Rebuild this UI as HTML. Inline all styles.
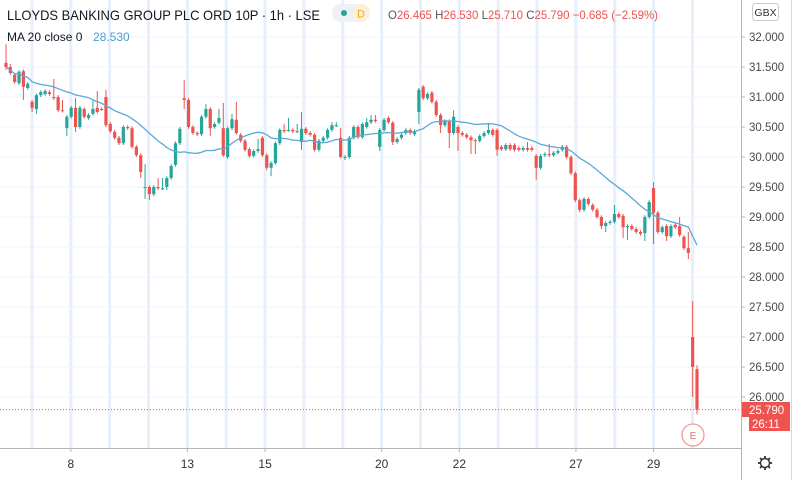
<!DOCTYPE html>
<html><head><meta charset="utf-8"><style>
body{margin:0;background:#fff;font-family:"Liberation Sans",sans-serif;}
#wrap{position:relative;width:793px;height:480px;overflow:hidden;}
svg{position:absolute;left:0;top:0;}
</style></head><body>
<div id="wrap">
<svg id="chart" width="793" height="480"></svg>
</div>
<script>
const opens=[31.57,31.50,31.37,31.23,31.43,31.15,30.92,30.80,31.03,31.05,31.08,31.00,31.00,30.78,30.48,30.67,30.82,30.50,30.80,30.65,30.72,30.82,30.80,31.00,30.55,30.42,30.32,30.23,30.50,30.48,30.17,30.03,29.50,29.50,29.38,29.50,29.48,29.50,29.65,29.87,30.23,30.98,
30.95,30.50,30.40,30.38,30.67,30.80,30.50,30.57,30.48,30.00,30.48,30.62,30.37,30.27,30.13,30.02,30.10,30.32,30.03,29.82,29.90,30.23,30.45,30.45,30.45,30.43,30.25,30.47,30.40,30.37,30.12,30.27,30.32,30.45,30.53,30.32,30.00,30.00,30.32,30.50,30.33,30.50,30.58,30.62,
30.17,30.45,30.65,30.57,30.25,30.32,30.40,30.45,30.38,30.75,31.17,30.98,31.07,30.92,30.70,30.53,30.60,30.40,30.50,30.40,30.37,30.33,30.28,30.27,30.35,30.40,30.45,30.45,30.17,30.13,30.20,30.20,30.15,30.12,30.15,30.15,30.02,29.82,30.03,30.05,30.03,30.07,30.12,30.17,
30.00,29.73,29.28,29.12,29.30,29.20,29.12,29.00,28.85,28.90,28.92,29.05,29.02,28.83,28.85,28.80,28.75,28.73,29.00,29.48,29.07,28.75,28.85,28.68,28.87,28.85,28.67,28.48,27.00,26.465];
const closes=[31.50,31.40,31.25,31.42,31.17,31.22,30.82,31.03,31.08,31.10,31.05,30.98,30.78,30.77,30.67,30.82,30.50,30.82,30.67,30.70,30.80,30.75,30.80,30.53,30.43,30.32,30.23,30.50,30.48,30.17,30.03,29.75,29.50,29.38,29.50,29.48,29.48,29.65,29.85,30.23,30.47,30.95,
30.50,30.40,30.38,30.67,30.80,30.48,30.55,30.65,30.03,30.48,30.63,30.40,30.27,30.12,30.02,30.10,30.13,30.03,29.82,29.90,30.23,30.45,30.43,30.45,30.43,30.43,30.47,30.40,30.37,30.12,30.27,30.32,30.45,30.53,30.53,30.00,30.00,30.32,30.50,30.33,30.55,30.58,30.62,30.60,
30.45,30.62,30.58,30.25,30.30,30.37,30.45,30.40,30.43,31.12,30.98,31.05,30.92,30.70,30.53,30.60,30.40,30.67,30.40,30.37,30.33,30.28,30.27,30.35,30.40,30.45,30.37,30.12,30.13,30.20,30.13,30.12,30.12,30.15,30.12,30.12,29.82,30.02,30.05,30.03,30.07,30.10,30.17,30.00,
29.73,29.28,29.12,29.30,29.22,29.12,29.00,28.85,28.90,28.92,29.05,29.00,28.83,28.85,28.80,28.75,28.72,29.00,29.25,29.07,28.75,28.83,28.68,28.85,28.83,28.70,28.48,28.40,26.50,25.79];
const highs=[31.88,31.55,31.40,31.45,31.46,31.25,30.95,31.06,31.11,31.13,31.11,31.30,31.03,30.95,30.70,30.85,30.98,30.85,30.83,30.73,30.95,31.10,30.83,31.12,30.58,30.45,30.35,30.53,30.53,30.51,30.20,30.06,29.88,29.53,29.53,29.65,29.65,29.68,29.88,30.26,30.50,31.28,
30.98,30.53,30.43,30.70,30.88,30.83,30.58,30.80,30.90,30.51,30.72,30.92,30.40,30.30,30.16,30.13,30.30,30.35,30.06,29.93,30.26,30.48,30.55,30.65,30.48,30.55,30.75,30.50,30.43,30.40,30.30,30.35,30.48,30.58,30.58,30.48,30.03,30.35,30.53,30.53,30.58,30.65,30.70,30.70,
30.48,30.65,30.68,30.60,30.33,30.40,30.48,30.48,30.46,31.15,31.20,31.08,31.10,30.95,30.73,30.63,30.63,30.78,30.53,30.43,30.40,30.36,30.31,30.38,30.43,30.55,30.48,30.48,30.20,30.23,30.23,30.23,30.18,30.18,30.25,30.18,30.05,30.05,30.08,30.22,30.10,30.13,30.20,30.20,
30.03,29.76,29.31,29.33,29.33,29.23,29.15,29.03,28.93,28.95,29.20,29.08,29.05,28.88,28.88,28.83,28.78,29.03,29.28,29.58,29.10,28.86,28.88,28.88,28.90,29.00,28.70,28.75,27.60,26.53];
const lows=[31.45,31.37,31.22,31.20,30.95,31.12,30.75,30.72,31.00,31.02,31.02,30.95,30.75,30.74,30.35,30.64,30.42,30.47,30.64,30.62,30.69,30.72,30.77,30.50,30.40,30.29,30.20,30.20,30.45,30.14,30.00,29.65,29.30,29.28,29.35,29.45,29.45,29.45,29.62,29.84,30.20,30.80,
30.47,30.37,30.35,30.35,30.64,30.35,30.47,30.54,30.00,29.97,30.45,30.37,30.24,30.09,29.99,29.99,30.07,30.00,29.78,29.68,29.87,30.20,30.40,30.42,30.40,30.40,30.12,30.37,30.34,30.09,30.09,30.24,30.29,30.42,30.50,29.98,29.95,29.97,30.29,30.30,30.30,30.47,30.55,30.57,
30.10,30.42,30.55,30.20,30.22,30.29,30.37,30.37,30.35,30.55,30.95,30.95,30.89,30.67,30.40,30.50,30.15,30.37,30.10,30.34,30.30,30.05,30.05,30.24,30.32,30.37,30.34,30.02,30.10,30.10,30.10,30.09,30.09,30.09,30.09,30.09,29.62,29.79,30.00,30.00,30.00,30.04,30.09,29.97,
29.70,29.25,29.08,29.09,29.19,29.09,28.97,28.80,28.75,28.87,28.89,28.97,28.65,28.62,28.77,28.72,28.69,28.60,28.97,28.55,28.72,28.72,28.60,28.65,28.80,28.67,28.45,28.30,26.00,25.71];
const priceTicks=["32.000","31.500","31.000","30.500","30.000","29.500","29.000","28.500","28.000","27.500","27.000","26.500","26.000"];
const dayLabels=["8","13","15","20","22","27","29"];
const lastPrice=25.79, maValue="28.530", maLast=28.53;

const NS="http://www.w3.org/2000/svg";
const svg=document.getElementById('chart');
const PL=6, PR=697, PT0=37, PPX=60, AXX=741, BOT=448;
const yOf=p=>PT0+(32-p)*PPX;
const xOf=i=>PL+i*(PR-PL)/(closes.length-1);
function mk(t,a,parent){const e=document.createElementNS(NS,t);for(const k in a)e.setAttribute(k,a[k]);(parent||svg).appendChild(e);return e;}

const bandG=mk('g',{});


for(let k=0;k<18;k++){const x=32+k*38.85;const r=mk('rect',{x:x-1.5,y:0,width:3,height:BOT,fill:'#e6effa'},bandG);

}
priceTicks.forEach(t=>{const y=yOf(parseFloat(t));const l=mk('line',{x1:0,x2:AXX,y1:y,y2:y,stroke:'#f0f3fa','stroke-width':1});

});

const cg=mk('g',{});


closes.forEach((c,i)=>{const o=opens[i],h=highs[i],l=lows[i];const col=c>=o?'#26a69a':'#ef5350';const x=xOf(i);
const w=mk('line',{x1:x,x2:x,y1:yOf(h),y2:yOf(l),stroke:col,'stroke-width':1},cg);


const top=yOf(Math.max(o,c)),bh=Math.max(1,Math.abs(yOf(o)-yOf(c)));
const b=mk('rect',{x:x-1.6,y:top,width:3.2,height:bh,fill:col},cg);

});

let pts=[];
for(let i=0;i<closes.length-2;i++){const s=Math.max(0,i-19);let sum=0;for(let j=s;j<=i;j++)sum+=closes[j];const m=sum/(i-s+1);pts.push(xOf(i).toFixed(1)+','+yOf(m).toFixed(1));}
pts.push(xOf(closes.length-1).toFixed(1)+','+yOf(maLast).toFixed(1));
const ma=mk('polyline',{points:pts.join(' '),fill:'none',stroke:'#5ba8d8','stroke-width':1.3});



const lp=mk('line',{x1:0,x2:AXX,y1:yOf(lastPrice),y2:yOf(lastPrice),stroke:'#ef5350','stroke-width':1,'stroke-dasharray':'1,2'});



const ya=mk('line',{x1:AXX+.5,x2:AXX+.5,y1:0,y2:480,stroke:'#b2b5be'});


const xa=mk('line',{x1:0,x2:AXX,y1:BOT+.5,y2:BOT+.5,stroke:'#b2b5be'});


mk('line',{x1:791.5,x2:791.5,y1:0,y2:480,stroke:'#d6d8de'});
priceTicks.forEach(t=>{const y=yOf(parseFloat(t));mk('line',{x1:AXX,x2:AXX+4,y1:y,y2:y,stroke:'#b2b5be'});
const tx=mk('text',{x:749,y:y+4,'font-size':11.5,fill:'#4a4a4a'});tx.textContent=t;

});
dayLabels.forEach((d,k)=>{const idx=[1,4,6,9,11,14,16][k];const x=32+idx*38.85;mk('line',{x1:x,x2:x,y1:BOT,y2:BOT+4,stroke:'#b2b5be'});
const tx=mk('text',{x:x,y:468,'font-size':12,fill:'#333','text-anchor':'middle'});tx.textContent=d;

});

const pl=mk('rect',{x:742,y:402,width:48,height:15,fill:'#ef5350'});


const pt=mk('text',{x:749,y:414,'font-size':11.5,fill:'#fff'});pt.textContent=lastPrice.toFixed(3);
const cd=mk('rect',{x:749,y:417,width:41,height:14,fill:'#ef5350'});


const ct=mk('text',{x:752,y:428,'font-size':11.5,fill:'#fff'});ct.textContent='26:11';

const eg=mk('g',{});


mk('circle',{cx:693,cy:435,r:11,fill:'#fff',stroke:'#ef9a9a','stroke-width':1.3},eg);
const et=mk('text',{x:693,y:439,'font-size':10,fill:'#e57373','text-anchor':'middle'},eg);et.textContent='E';

const gg=mk('g',{transform:'translate(765,463)'});


mk('circle',{cx:0,cy:0,r:4.5,fill:'none',stroke:'#333','stroke-width':1.4},gg);
for(let a=0;a<8;a++){const r=a*Math.PI/4;mk('line',{x1:4.5*Math.cos(r),y1:4.5*Math.sin(r),x2:7*Math.cos(r),y2:7*Math.sin(r),stroke:'#333','stroke-width':1.8},gg);}

const t1=mk('text',{x:7,y:20,'font-size':14,fill:'#131722',textLength:313,lengthAdjust:'spacingAndGlyphs'});t1.textContent='LLOYDS BANKING GROUP PLC ORD 10P · 1h · LSE';


const pill=mk('rect',{x:332,y:4,width:38,height:18,rx:9,fill:'#eef1f6'});


mk('circle',{cx:344,cy:13,r:3,fill:'#26a69a'});
mk('circle',{cx:361,cy:13,r:9,fill:'#fdf0d9'});
const dt=mk('text',{x:361,y:17.5,'font-size':11,fill:'#f5a623','text-anchor':'middle'});dt.textContent='D';
const oh=mk('text',{x:388,y:19,'font-size':12,fill:'#ef5350',textLength:270,lengthAdjust:'spacingAndGlyphs'});


const parts=[['O','26.465'],['H','26.530'],['L','25.710'],['C','25.790']];
parts.forEach(([k,v])=>{const a=document.createElementNS(NS,'tspan');a.setAttribute('fill','#555');a.textContent=k;oh.appendChild(a);const b=document.createElementNS(NS,'tspan');b.textContent=v+' ';oh.appendChild(b);});
const ch=document.createElementNS(NS,'tspan');ch.textContent='−0.685 (−2.59%)';oh.appendChild(ch);
const m1=mk('text',{x:7,y:41,'font-size':12,fill:'#131722'});m1.textContent='MA 20 close 0';


const m2=mk('text',{x:93,y:41,'font-size':12,fill:'#4a9fd4'});m2.textContent=maValue;


const gb=mk('rect',{x:752.5,y:3.5,width:26,height:17,rx:3,fill:'#fff',stroke:'#c9cbd1'});


const gt=mk('text',{x:765.5,y:16,'font-size':10.5,fill:'#333','text-anchor':'middle'});gt.textContent='GBX';
</script>
</body></html>
